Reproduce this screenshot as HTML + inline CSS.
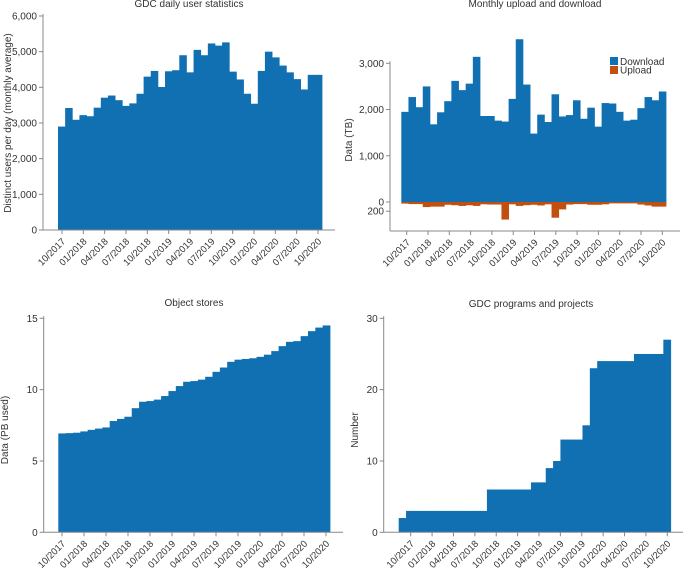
<!DOCTYPE html>
<html><head><meta charset="utf-8"><style>
body{margin:0;background:#fff;}
svg{display:block;font-family:"Liberation Sans",Arial,sans-serif;}
text{fill:#333;}
</style></head><body>
<svg id="c" width="685" height="568" viewBox="0 0 685 568"></svg>
<script>
const tickLabels = ["10/2017","01/2018","04/2018","07/2018","10/2018","01/2019","04/2019","07/2019","10/2019","01/2020","04/2020","07/2020","10/2020"];
const usersValues = [2900,3420,3090,3220,3190,3430,3710,3770,3640,3480,3550,3820,4300,4460,4010,4450,4480,4900,4420,5050,4900,5230,5170,5260,4440,4220,3820,3540,4460,5000,4840,4610,4420,4230,3940,4350,4350];
const downloadValues = [1950,2270,2050,2500,1680,1940,2180,2620,2420,2560,3140,1860,1860,1760,1740,2230,3520,2540,1480,1890,1730,2330,1850,1880,2200,1800,2040,1630,2140,2130,1950,1760,1780,2030,2270,2200,2390];
const uploadValues = [35,45,45,110,100,100,60,70,85,70,85,50,55,55,380,50,85,70,60,75,50,340,160,55,45,45,60,60,50,30,30,30,30,55,75,100,100];
const storeValues = [6.93,6.95,6.98,7.07,7.18,7.27,7.35,7.8,7.95,8.1,8.7,9.15,9.2,9.3,9.55,9.9,10.25,10.55,10.6,10.7,10.9,11.25,11.55,11.95,12.1,12.15,12.2,12.3,12.45,12.7,13.05,13.35,13.4,13.75,14.1,14.35,14.5];
const projectValues = [2,3,3,3,3,3,3,3,3,3,3,3,6,6,6,6,6,6,7,7,9,10,13,13,13,15,23,24,24,24,24,24,25,25,25,25,27];
const usersTicks = [0,1000,2000,3000,4000,5000,6000];
const tbTicks = [0,1000,2000,3000];
const pbTicks = [0,5,10,15];
const numTicks = [0,10,20,30];

const svg = document.getElementById('c');
const NS = 'http://www.w3.org/2000/svg';
function mk(tag, attrs, parent){const e=document.createElementNS(NS,tag);for(const k in attrs)e.setAttribute(k,attrs[k]);(parent||svg).appendChild(e);return e;}
function txt(x,y,s,attrs,parent){const t=mk('text',Object.assign({x:x,y:y,'font-size':10},attrs||{}),parent);t.textContent=s;return t;}

function panel(cfg){
  const g = mk('g',{});
  
  
  const ys = v => cfg.y0 - (v - 0) * (cfg.y0 - cfg.yTop) / (cfg.yMax);
  const n = cfg.values.length;
  const bw = (cfg.bx1 - cfg.bx0) / n;
  cfg.values.forEach((v,i)=>{
    const r = mk('rect',{x:cfg.bx0+i*bw, y:ys(v), width:bw+0.4, height:cfg.y0-ys(v), fill:'#1070b2'},g);
    
    
  });
  if(cfg.neg){
    cfg.neg.forEach((v,i)=>{
      const r = mk('rect',{x:cfg.bx0+i*bw, y:cfg.y0, width:bw+0.4, height:ys(0)-ys(v), fill:'#c04f10'},g);
      
      
    });
  }
  const yAxis = mk('line',{x1:cfg.ax,x2:cfg.ax,y1:cfg.yTop-2,y2:cfg.axBottom,stroke:'#888','stroke-width':1},g);
  
  
  cfg.yTicks.forEach(v=>{
    const y = ys(v);
    mk('line',{x1:cfg.ax-4,x2:cfg.ax,y1:y,y2:y,stroke:'#888'},g);
    const t = txt(cfg.ax-6,y+3.5,v.toLocaleString('en-US'),{'text-anchor':'end'},g);
    
    
  });
  if(cfg.extraTick){
    const y = ys(-cfg.extraTick);
    mk('line',{x1:cfg.ax-4,x2:cfg.ax,y1:y,y2:y,stroke:'#888'},g);
    const t = txt(cfg.ax-6,y+3.5,String(cfg.extraTick),{'text-anchor':'end'},g);
    
    
  }
  const xAxis = mk('line',{x1:cfg.ax,x2:cfg.axRight,y1:cfg.axBottom,y2:cfg.axBottom,stroke:'#888'},g);
  
  
  const step = (cfg.t1 - cfg.t0)/(tickLabels.length-1);
  tickLabels.forEach((s,i)=>{
    const x = cfg.t0 + i*step;
    mk('line',{x1:x,x2:x,y1:cfg.axBottom,y2:cfg.axBottom+4,stroke:'#888'},g);
    const lx = x+4, ly = cfg.axBottom+12;
    const t = txt(lx,ly,s,{'text-anchor':'end','font-size':9.5,transform:`rotate(-45 ${lx} ${ly})`},g);
    
    
  });
  const ti = txt(cfg.titleX,cfg.titleY,cfg.title,{'text-anchor':'middle'},g);
  
  
  const yt = txt(0,0,cfg.yTitle,{'text-anchor':'middle',transform:`translate(${cfg.ytX} ${cfg.ytY}) rotate(-90)`},g);
  
  
}

panel({name:'daily-users-chart',values:usersValues,yMax:6000,y0:230,yTop:16,bx0:58,bx1:322,ax:43,axBottom:230,axRight:335,t0:62,t1:318,yTicks:usersTicks,title:'GDC daily user statistics',titleX:189,titleY:7,yTitle:'Distinct users per day (monthly average)',ytX:11,ytY:123});
panel({name:'upload-download-chart',values:downloadValues,neg:uploadValues,yMax:3000,y0:202,yTop:63.3,bx0:401.3,bx1:666,ax:390,axBottom:231,axRight:680,t0:406.7,t1:662.3,yTicks:tbTicks,extraTick:200,title:'Monthly upload and download',titleX:535,titleY:7,yTitle:'Data (TB)',ytX:352,ytY:140});
panel({name:'object-stores-chart',values:storeValues,yMax:15,y0:532.3,yTop:318.3,bx0:58.3,bx1:330,ax:43.7,axBottom:532.3,axRight:343,t0:62,t1:326,yTicks:pbTicks,title:'Object stores',titleX:194,titleY:306,yTitle:'Data (PB used)',ytX:8,ytY:430});
panel({name:'programs-projects-chart',values:projectValues,yMax:30,y0:532.3,yTop:318.3,bx0:398.7,bx1:670.7,ax:383.7,axBottom:532.3,axRight:683,t0:410.7,t1:667.3,yTicks:numTicks,title:'GDC programs and projects',titleX:531,titleY:307,yTitle:'Number',ytX:358,ytY:430});

const lg = mk('g',{});


mk('rect',{x:610,y:57,width:8,height:8,fill:'#1070b2'},lg);
const l1 = txt(620,65,'Download',{},lg);


mk('rect',{x:610,y:66,width:8,height:8,fill:'#c04f10'},lg);
const l2 = txt(620,73.5,'Upload',{},lg);


</script>
</body></html>
